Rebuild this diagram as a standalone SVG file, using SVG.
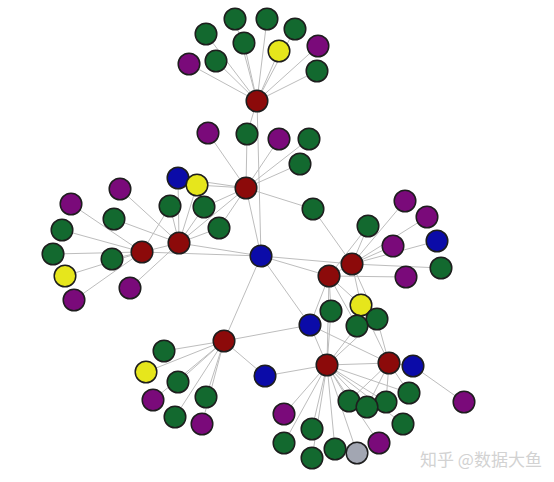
<svg xmlns="http://www.w3.org/2000/svg" width="554" height="482" viewBox="0 0 554 482">
<style>
.e line{stroke:#bdbdbd;stroke-width:1}
circle{stroke:#1e1e1e;stroke-width:1.5}
.r{fill:#8c0a0a}.g{fill:#13692f}.p{fill:#7a0a7a}.b{fill:#0b0ba8}.y{fill:#e6e61c}.s{fill:#a2a6b2}
.wm{font-family:"Noto Sans CJK SC","Noto Sans",sans-serif;font-size:17px;fill:#d2d2d2}
</style>
<rect width="554" height="482" fill="#fff"/>
<g id="connectors" class="e">
<line x1="257" y1="101" x2="206" y2="34"/><line x1="257" y1="101" x2="235" y2="19"/><line x1="257" y1="101" x2="267" y2="19"/><line x1="257" y1="101" x2="295" y2="29"/><line x1="257" y1="101" x2="244" y2="43"/><line x1="257" y1="101" x2="216" y2="61"/><line x1="257" y1="101" x2="317" y2="71"/><line x1="257" y1="101" x2="279" y2="51"/><line x1="257" y1="101" x2="189" y2="64"/><line x1="257" y1="101" x2="318" y2="46"/>
<line x1="257" y1="101" x2="247" y2="134"/><line x1="257" y1="101" x2="261" y2="256"/><line x1="247" y1="134" x2="246" y2="188"/>
<line x1="246" y1="188" x2="208" y2="133"/><line x1="246" y1="188" x2="279" y2="139"/><line x1="246" y1="188" x2="309" y2="139"/><line x1="246" y1="188" x2="300" y2="164"/><line x1="246" y1="188" x2="313" y2="209"/><line x1="246" y1="188" x2="197" y2="185"/><line x1="246" y1="188" x2="178" y2="178"/><line x1="246" y1="188" x2="204" y2="207"/><line x1="246" y1="188" x2="219" y2="228"/><line x1="246" y1="188" x2="261" y2="256"/><line x1="246" y1="188" x2="179" y2="243"/>
<line x1="179" y1="243" x2="178" y2="178"/><line x1="179" y1="243" x2="197" y2="185"/><line x1="179" y1="243" x2="170" y2="206"/><line x1="179" y1="243" x2="204" y2="207"/><line x1="179" y1="243" x2="219" y2="228"/><line x1="179" y1="243" x2="120" y2="189"/><line x1="179" y1="243" x2="114" y2="219"/><line x1="179" y1="243" x2="130" y2="288"/><line x1="179" y1="243" x2="142" y2="252"/><line x1="179" y1="243" x2="261" y2="256"/>
<line x1="142" y1="252" x2="71" y2="204"/><line x1="142" y1="252" x2="62" y2="230"/><line x1="142" y1="252" x2="53" y2="254"/><line x1="142" y1="252" x2="112" y2="259"/><line x1="142" y1="252" x2="65" y2="276"/><line x1="142" y1="252" x2="74" y2="300"/><line x1="142" y1="252" x2="170" y2="206"/><line x1="142" y1="252" x2="261" y2="256"/>
<line x1="261" y1="256" x2="352" y2="264"/><line x1="261" y1="256" x2="329" y2="276"/><line x1="261" y1="256" x2="224" y2="341"/><line x1="261" y1="256" x2="310" y2="325"/>
<line x1="352" y1="264" x2="313" y2="209"/><line x1="352" y1="264" x2="368" y2="226"/><line x1="352" y1="264" x2="405" y2="201"/><line x1="352" y1="264" x2="427" y2="217"/><line x1="352" y1="264" x2="437" y2="241"/><line x1="352" y1="264" x2="393" y2="246"/><line x1="352" y1="264" x2="441" y2="268"/><line x1="352" y1="264" x2="329" y2="276"/><line x1="352" y1="264" x2="361" y2="305"/><line x1="352" y1="264" x2="377" y2="319"/>
<line x1="329" y1="276" x2="368" y2="226"/><line x1="329" y1="276" x2="406" y2="277"/><line x1="329" y1="276" x2="331" y2="311"/><line x1="329" y1="276" x2="310" y2="325"/><line x1="329" y1="276" x2="361" y2="305"/><line x1="329" y1="276" x2="327" y2="365"/><line x1="329" y1="276" x2="357" y2="326"/>
<line x1="224" y1="341" x2="310" y2="325"/><line x1="224" y1="341" x2="265" y2="376"/><line x1="224" y1="341" x2="164" y2="351"/><line x1="224" y1="341" x2="146" y2="372"/><line x1="224" y1="341" x2="178" y2="382"/><line x1="224" y1="341" x2="206" y2="397"/><line x1="224" y1="341" x2="153" y2="400"/><line x1="224" y1="341" x2="175" y2="417"/><line x1="224" y1="341" x2="202" y2="424"/>
<line x1="327" y1="365" x2="310" y2="325"/><line x1="327" y1="365" x2="265" y2="376"/><line x1="327" y1="365" x2="331" y2="311"/><line x1="327" y1="365" x2="357" y2="326"/><line x1="327" y1="365" x2="377" y2="319"/><line x1="327" y1="365" x2="389" y2="363"/><line x1="327" y1="365" x2="409" y2="393"/><line x1="327" y1="365" x2="349" y2="401"/><line x1="327" y1="365" x2="367" y2="407"/><line x1="327" y1="365" x2="386" y2="402"/><line x1="327" y1="365" x2="284" y2="414"/><line x1="327" y1="365" x2="312" y2="429"/><line x1="327" y1="365" x2="403" y2="424"/><line x1="327" y1="365" x2="284" y2="443"/><line x1="327" y1="365" x2="335" y2="449"/><line x1="327" y1="365" x2="357" y2="453"/><line x1="327" y1="365" x2="379" y2="443"/><line x1="327" y1="365" x2="312" y2="458"/>
<line x1="389" y1="363" x2="310" y2="325"/><line x1="389" y1="363" x2="361" y2="305"/><line x1="389" y1="363" x2="377" y2="319"/><line x1="389" y1="363" x2="413" y2="366"/><line x1="389" y1="363" x2="409" y2="393"/><line x1="389" y1="363" x2="349" y2="401"/><line x1="389" y1="363" x2="367" y2="407"/><line x1="389" y1="363" x2="386" y2="402"/>
<line x1="413" y1="366" x2="464" y2="402"/>
</g>
<g id="n_t1"><circle class="g" cx="206" cy="34" r="10.8"/></g>
<g id="n_t2"><circle class="g" cx="235" cy="19" r="10.8"/></g>
<g id="n_t3"><circle class="g" cx="267" cy="19" r="10.8"/></g>
<g id="n_t4"><circle class="g" cx="295" cy="29" r="10.8"/></g>
<g id="n_t5"><circle class="g" cx="244" cy="43" r="10.8"/></g>
<g id="n_t6"><circle class="g" cx="216" cy="61" r="10.8"/></g>
<g id="n_t7"><circle class="g" cx="317" cy="71" r="10.8"/></g>
<g id="n_t8"><circle class="y" cx="279" cy="51" r="10.8"/></g>
<g id="n_t9"><circle class="p" cx="189" cy="64" r="10.8"/></g>
<g id="n_t10"><circle class="p" cx="318" cy="46" r="10.8"/></g>
<g id="n_T"><circle class="r" cx="257" cy="101" r="10.8"/></g>
<g id="n_a1"><circle class="p" cx="208" cy="133" r="10.8"/></g>
<g id="n_a2"><circle class="g" cx="247" cy="134" r="10.8"/></g>
<g id="n_a3"><circle class="p" cx="279" cy="139" r="10.8"/></g>
<g id="n_a4"><circle class="g" cx="309" cy="139" r="10.8"/></g>
<g id="n_a5"><circle class="g" cx="300" cy="164" r="10.8"/></g>
<g id="n_a6"><circle class="g" cx="313" cy="209" r="10.8"/></g>
<g id="n_R1"><circle class="r" cx="246" cy="188" r="10.8"/></g>
<g id="n_B1"><circle class="b" cx="178" cy="178" r="10.8"/></g>
<g id="n_a7"><circle class="g" cx="170" cy="206" r="10.8"/></g>
<g id="n_a8"><circle class="g" cx="204" cy="207" r="10.8"/></g>
<g id="n_Y1"><circle class="y" cx="197" cy="185" r="10.8"/></g>
<g id="n_a9"><circle class="g" cx="219" cy="228" r="10.8"/></g>
<g id="n_R2"><circle class="r" cx="179" cy="243" r="10.8"/></g>
<g id="n_b1"><circle class="p" cx="120" cy="189" r="10.8"/></g>
<g id="n_b2"><circle class="g" cx="114" cy="219" r="10.8"/></g>
<g id="n_b3"><circle class="p" cx="130" cy="288" r="10.8"/></g>
<g id="n_R3"><circle class="r" cx="142" cy="252" r="10.8"/></g>
<g id="n_c1"><circle class="p" cx="71" cy="204" r="10.8"/></g>
<g id="n_c2"><circle class="g" cx="62" cy="230" r="10.8"/></g>
<g id="n_c3"><circle class="g" cx="53" cy="254" r="10.8"/></g>
<g id="n_c4"><circle class="g" cx="112" cy="259" r="10.8"/></g>
<g id="n_c5"><circle class="y" cx="65" cy="276" r="10.8"/></g>
<g id="n_c6"><circle class="p" cx="74" cy="300" r="10.8"/></g>
<g id="n_B0"><circle class="b" cx="261" cy="256" r="10.8"/></g>
<g id="n_d1"><circle class="g" cx="368" cy="226" r="10.8"/></g>
<g id="n_d2"><circle class="p" cx="405" cy="201" r="10.8"/></g>
<g id="n_d3"><circle class="p" cx="427" cy="217" r="10.8"/></g>
<g id="n_d4"><circle class="b" cx="437" cy="241" r="10.8"/></g>
<g id="n_d5"><circle class="p" cx="393" cy="246" r="10.8"/></g>
<g id="n_d6"><circle class="g" cx="441" cy="268" r="10.8"/></g>
<g id="n_d7"><circle class="p" cx="406" cy="277" r="10.8"/></g>
<g id="n_R5"><circle class="r" cx="352" cy="264" r="10.8"/></g>
<g id="n_R4"><circle class="r" cx="329" cy="276" r="10.8"/></g>
<g id="n_Y2"><circle class="y" cx="361" cy="305" r="10.8"/></g>
<g id="n_e1"><circle class="g" cx="331" cy="311" r="10.8"/></g>
<g id="n_e3"><circle class="g" cx="377" cy="319" r="10.8"/></g>
<g id="n_e2"><circle class="g" cx="357" cy="326" r="10.8"/></g>
<g id="n_B2"><circle class="b" cx="310" cy="325" r="10.8"/></g>
<g id="n_R6"><circle class="r" cx="224" cy="341" r="10.8"/></g>
<g id="n_f1"><circle class="g" cx="164" cy="351" r="10.8"/></g>
<g id="n_f2"><circle class="y" cx="146" cy="372" r="10.8"/></g>
<g id="n_f3"><circle class="g" cx="178" cy="382" r="10.8"/></g>
<g id="n_f4"><circle class="g" cx="206" cy="397" r="10.8"/></g>
<g id="n_f5"><circle class="p" cx="153" cy="400" r="10.8"/></g>
<g id="n_f6"><circle class="g" cx="175" cy="417" r="10.8"/></g>
<g id="n_f7"><circle class="p" cx="202" cy="424" r="10.8"/></g>
<g id="n_B4"><circle class="b" cx="265" cy="376" r="10.8"/></g>
<g id="n_R7"><circle class="r" cx="327" cy="365" r="10.8"/></g>
<g id="n_R8"><circle class="r" cx="389" cy="363" r="10.8"/></g>
<g id="n_B3"><circle class="b" cx="413" cy="366" r="10.8"/></g>
<g id="n_g1"><circle class="g" cx="409" cy="393" r="10.8"/></g>
<g id="n_g4"><circle class="g" cx="386" cy="402" r="10.8"/></g>
<g id="n_g2"><circle class="g" cx="349" cy="401" r="10.8"/></g>
<g id="n_g3"><circle class="g" cx="367" cy="407" r="10.8"/></g>
<g id="n_g5"><circle class="p" cx="464" cy="402" r="10.8"/></g>
<g id="n_g6"><circle class="p" cx="284" cy="414" r="10.8"/></g>
<g id="n_g7"><circle class="g" cx="312" cy="429" r="10.8"/></g>
<g id="n_g8"><circle class="g" cx="403" cy="424" r="10.8"/></g>
<g id="n_g9"><circle class="g" cx="284" cy="443" r="10.8"/></g>
<g id="n_g10"><circle class="g" cx="335" cy="449" r="10.8"/></g>
<g id="n_gy"><circle class="s" cx="357" cy="453" r="10.8"/></g>
<g id="n_g11"><circle class="p" cx="379" cy="443" r="10.8"/></g>
<g id="n_g12"><circle class="g" cx="312" cy="458" r="10.8"/></g>
<text class="wm" x="420" y="466">知乎 @数据大鱼</text>
</svg>
